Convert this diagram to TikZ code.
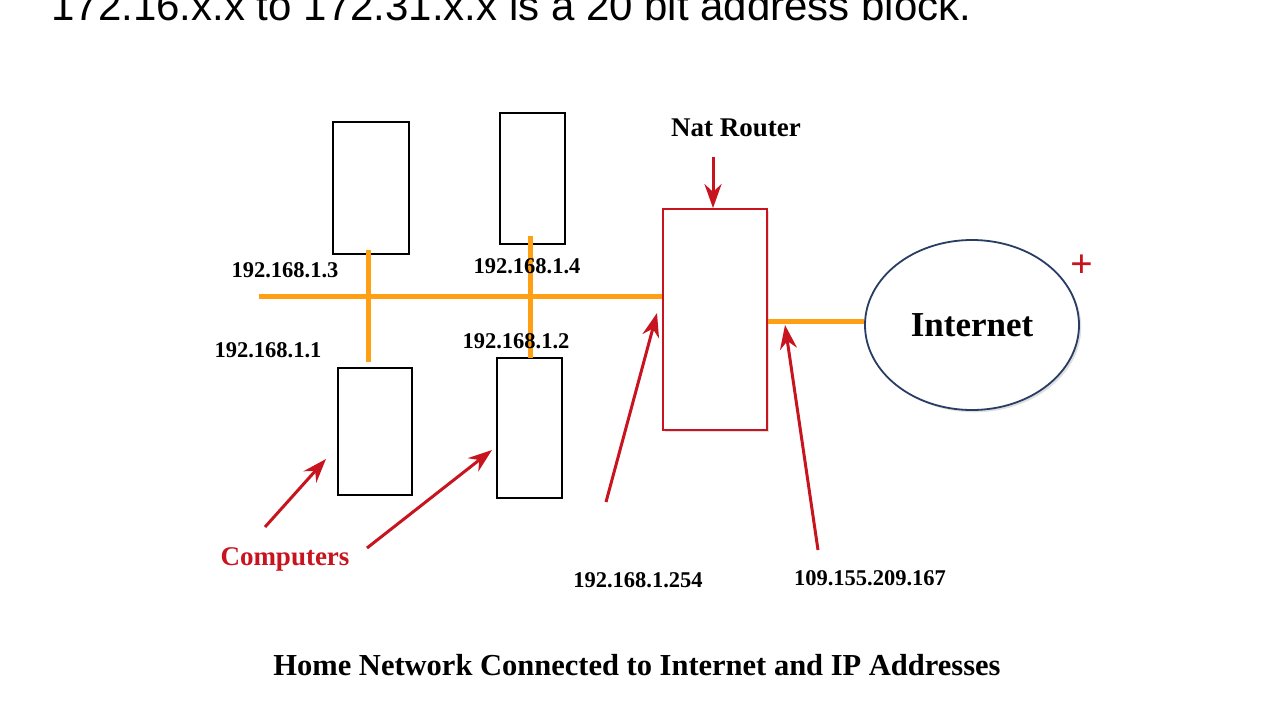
\documentclass[tikz,border=0pt]{standalone}
\usepackage{fontspec}
\setmainfont{Liberation Serif}
\newfontfamily\arialf{Liberation Sans}
\usetikzlibrary{shadows,shapes.geometric,arrows.meta}
\definecolor{oo}{RGB}{255, 160, 20}
\definecolor{rr}{RGB}{200, 20, 30}
\definecolor{bb}{RGB}{40, 60, 100}

\begin{document}
\begin{tikzpicture}[x=1pt, y=-1pt]
[every node/.style={inner sep=0pt}]
\useasboundingbox (0,0) rectangle (1280,720);
\tikzset{pc/.style={draw=black, line width=1.5pt}, wire/.style={oo, line width=5pt},
  ar/.style={rr, line width=3pt, -{Stealth[length=24pt,width=17pt]}},
  ip/.style={font=\bfseries\fontsize{22.5}{22.5}\selectfont}}
\node [anchor=base west, font=\arialf\fontsize{42}{42}\selectfont] at (48,20) {172.16.x.x to 172.31.x.x is a 20 bit address block.};
% computers
\node (tl) [pc, minimum width=76pt, minimum height=132pt] at (371,188) {};
\node (tr) [pc, minimum width=65pt, minimum height=131pt] at (532.5,178.5) {};
\node (bl) [pc, minimum width=74pt, minimum height=127pt] at (375,431.5) {};
\node (br) [pc, minimum width=65pt, minimum height=140pt] at (529.5,428) {};
% router and internet
\node (nat) [draw=rr, line width=1.8pt, minimum width=104pt, minimum height=221pt, fill=white, drop shadow={opacity=0.25}] at (715,319.5) {};
\node (inet) [ellipse, draw=bb, line width=1.8pt, minimum width=214pt, minimum height=170pt, fill=white, drop shadow={opacity=0.25}, font=\bfseries\fontsize{35}{35}\selectfont] at (972,325) {Internet};
% wires
\coordinate (w0) at (259,296);
\draw [wire] (w0) -- (nat.west |- w0);
\draw [wire] (368,250) -- (368,362);
\draw [wire] (530,236) -- (530,358);
\draw [wire] (nat.east |- 0,321) -- (inet.west |- 0,321);
% labels
\node (l3) [ip] at (285,270) {192.168.1.3};
\node (l4) [ip] at (527,266) {192.168.1.4};
\node (l1) [ip] at (268,350) {192.168.1.1};
\node (l2) [ip] at (516,341) {192.168.1.2};
\node (lnat) [ip, font=\bfseries\fontsize{27}{27}\selectfont] at (736,128) {Nat Router};
\node (lpc) [ip, rr, font=\bfseries\fontsize{27}{27}\selectfont] at (285,559) {Computers};
\node (lin) [ip] at (638,580) {192.168.1.254};
\node (lout) [ip] at (870,578) {109.155.209.167};
\node (cap) [font=\bfseries\fontsize{30.5}{30.5}\selectfont] at (637,665) {Home Network Connected to Internet and IP Addresses};
% arrows
\coordinate (a1) at (713,157);
\coordinate (a2) at (265,527);
\coordinate (a3) at (367,548);
\coordinate (a4) at (606,502);
\coordinate (a5) at (818,550);
\draw [ar] (a1) -- (nat.north -| a1);
\draw [ar] (a2) -- (326,459);
\draw [ar] (a3) -- (492,450);
\draw [ar] (a4) -- (657,313);
\draw [ar] (a5) -- (785,325);
\node (cross) [rr, font=\bfseries\fontsize{40}{40}\selectfont] at (1082,266) {+};
\end{tikzpicture}
\end{document}
